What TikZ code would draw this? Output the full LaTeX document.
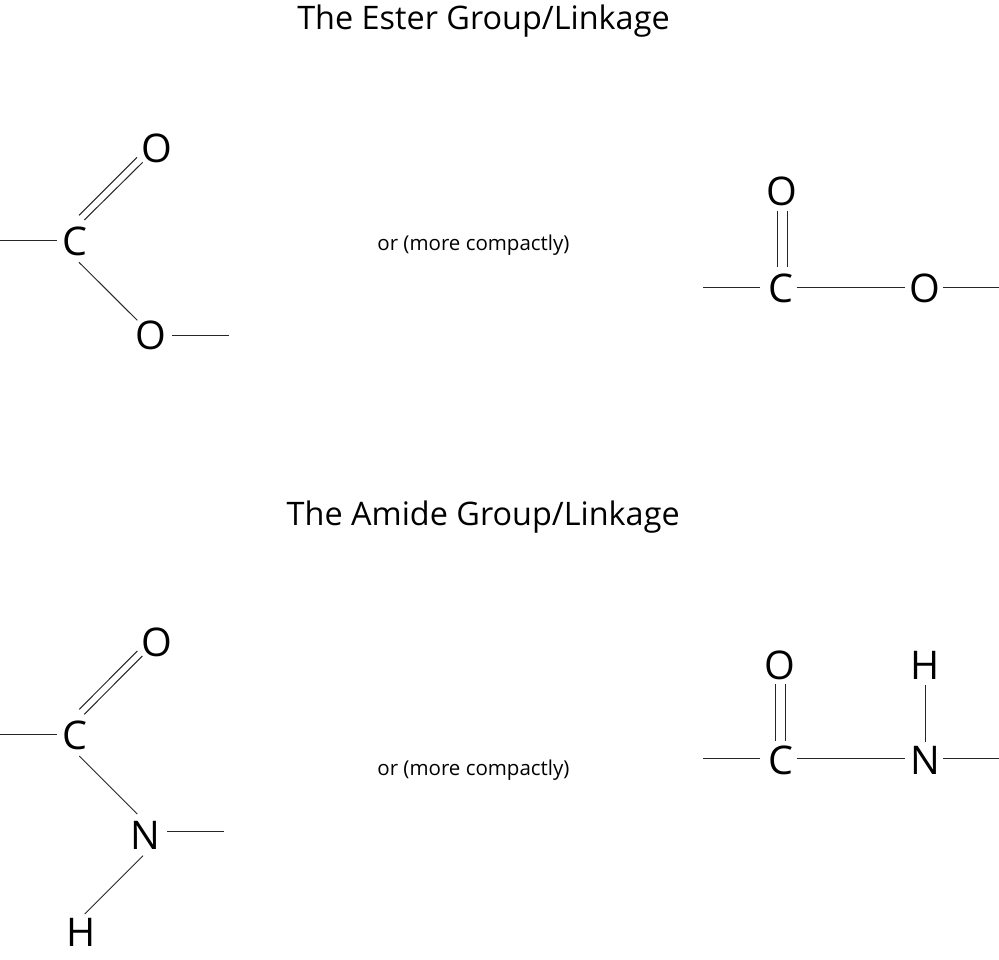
\documentclass[tikz,border=0pt]{standalone}
\usepackage{fontspec}
\setmainfont{Open Sans}
\begin{document}
\begin{tikzpicture}[x=1pt,y=-1pt,
  atom/.style={inner sep=0pt,font=\fontsize{39.5}{39.5}\selectfont,anchor=center},
  title/.style={inner sep=0pt,font=\fontsize{32.4}{32.4}\selectfont,anchor=base},
  note/.style={inner sep=0pt,font=\fontsize{20.5}{22}\selectfont,anchor=base},
  bond/.style={line width=1pt,black!85}]
\useasboundingbox (0,0) rectangle (999,959);
\node[title] (t1) at (483.5,29.5) {The Ester Group/Linkage};
\node[title] (t2) at (483.2,525) {The Amide Group/Linkage};
\node[note] (n1) at (473.5,250.5) {or (more compactly)};
\node[note] (n2) at (473.5,775.5) {or (more compactly)};
% ester left
\node[atom] (c1) at (74.5,241) {C};
\node[atom] (o1) at (156.4,148) {O};
\node[atom] (o2) at (151,335.5) {O};
\coordinate (e1) at (0,240.7);
\coordinate (e2) at (228.5,335.5);
\draw[bond] (e1) -- (57,240.7);
\draw[bond] (79,215.3) -- (137,157.3);
\draw[bond] (84.3,220) -- (142.7,162.3);
\draw[bond] (79,262.3) -- (137.3,320.3);
\draw[bond] (172,335.5) -- (e2);
% ester right
\node[atom] (c2) at (780.8,288.7) {C};
\node[atom] (o3) at (782,191.3) {O};
\node[atom] (o4) at (925.3,288) {O};
\coordinate (e3) at (703.3,287);
\coordinate (e4) at (999,287);
\draw[bond] (e3) -- (760.3,287);
\draw[bond] (777,210.7) -- (777,266.7);
\draw[bond] (787,210.7) -- (787,266.7);
\draw[bond] (796.7,287) -- (905,287);
\draw[bond] (943.3,287) -- (e4);
% amide left
\node[atom] (c3) at (74.5,735) {C};
\node[atom] (o5) at (156.5,642.5) {O};
\node[atom] (n3) at (145,835.5) {N};
\node[atom] (h1) at (81,932.8) {H};
\coordinate (e5) at (0,734.3);
\coordinate (e6) at (223.7,831.7);
\draw[bond] (e5) -- (57,734.3);
\draw[bond] (79.3,709.3) -- (137.3,651);
\draw[bond] (84.3,714.3) -- (142.3,656);
\draw[bond] (79.3,756) -- (137.3,814);
\draw[bond] (167,831.7) -- (e6);
\draw[bond] (143,855.7) -- (84.7,914);
% amide right
\node[atom] (c4) at (780.8,760) {C};
\node[atom] (o6) at (780.3,665.3) {O};
\node[atom] (n4) at (925,760) {N};
\node[atom] (h2) at (925,665.3) {H};
\coordinate (e7) at (703.3,758.7);
\coordinate (e8) at (999,758.7);
\draw[bond] (e7) -- (760.3,758.7);
\draw[bond] (775.3,684.3) -- (775.3,740.7);
\draw[bond] (785.3,684.3) -- (785.3,740.7);
\draw[bond] (796.7,758.7) -- (905,758.7);
\draw[bond] (943.3,758.7) -- (e8);
\draw[bond] (925,685.3) -- (925,741.7);
\end{tikzpicture}
\end{document}
